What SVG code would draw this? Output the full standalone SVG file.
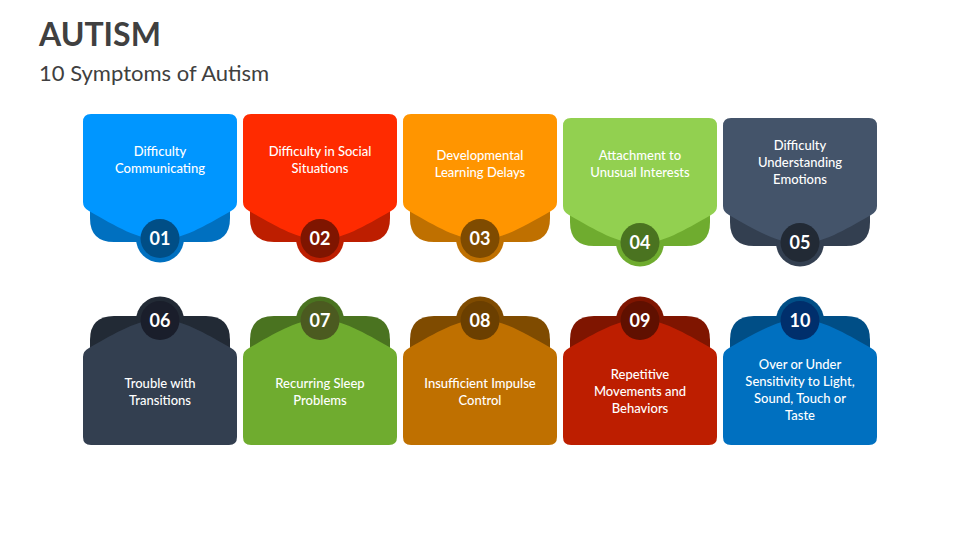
<svg xmlns="http://www.w3.org/2000/svg" width="960" height="540" viewBox="0 0 960 540">
<style>
text{font-family:"Lato","Open Sans","Liberation Sans",sans-serif;text-anchor:middle}
.h1{font-size:32px;font-weight:700;fill:#404040;text-anchor:start}
.h2{font-size:22px;fill:#404040;text-anchor:start}
.t{font-size:13px;fill:#fff;font-weight:500}
.n{font-size:18px;fill:#fff;font-weight:700}
</style>
<defs>
<path id="back" d="M0,0H140V12Q140,36 116,36H24Q0,36 0,12Z"/>
<path id="card" d="M8,0H146Q154,0 154,8V88Q154,94 148,97C120,113 100,125 77,126C54,125 34,113 6,97Q0,94 0,88V8Q0,0 8,0Z"/>
</defs>
<text class="h1" x="39" y="46">AUTISM</text>
<text class="h2" x="39" y="81">10 Symptoms of Autism</text>
<g id="connectors"/>
<g id="node-01"><use href="#back" x="90" y="206" fill="#0070C0"/><circle cx="160" cy="238.5" r="24" fill="#0070C0"/><use href="#card" x="83" y="114" fill="#0096FF"/><circle cx="160" cy="238.5" r="19.5" fill="#004E86"/><text class="t" x="160" y="156">Difficulty</text><text class="t" x="160" y="173">Communicating</text><text class="n" x="160" y="244.5">01</text></g>
<g id="node-02"><use href="#back" x="250" y="206" fill="#BD1E00"/><circle cx="320" cy="238.5" r="24" fill="#BD1E00"/><use href="#card" x="243" y="114" fill="#FF2B00"/><circle cx="320" cy="238.5" r="19.5" fill="#7F1500"/><text class="t" x="320" y="156">Difficulty in Social</text><text class="t" x="320" y="173">Situations</text><text class="n" x="320" y="244.5">02</text></g>
<g id="node-03"><use href="#back" x="410" y="206" fill="#BF7000"/><circle cx="480" cy="238.5" r="24" fill="#BF7000"/><use href="#card" x="403" y="114" fill="#FF9500"/><circle cx="480" cy="238.5" r="19.5" fill="#7F4B00"/><text class="t" x="480" y="160">Developmental</text><text class="t" x="480" y="177">Learning Delays</text><text class="n" x="480" y="244.5">03</text></g>
<g id="node-04"><use href="#back" x="570" y="210" fill="#6FAC2F"/><circle cx="640" cy="242.5" r="24" fill="#6FAC2F"/><use href="#card" x="563" y="118" fill="#92D050"/><circle cx="640" cy="242.5" r="19.5" fill="#4A7320"/><text class="t" x="640" y="160">Attachment to</text><text class="t" x="640" y="177">Unusual Interests</text><text class="n" x="640" y="248.5">04</text></g>
<g id="node-05"><use href="#back" x="730" y="210" fill="#333F50"/><circle cx="800" cy="242.5" r="24" fill="#333F50"/><use href="#card" x="723" y="118" fill="#44546A"/><circle cx="800" cy="242.5" r="19.5" fill="#222A35"/><text class="t" x="800" y="150">Difficulty</text><text class="t" x="800" y="167">Understanding</text><text class="t" x="800" y="184">Emotions</text><text class="n" x="800" y="248.5">05</text></g>
<g id="node-06"><use href="#back" transform="translate(90,352) scale(1,-1)" fill="#222A35"/><circle cx="160" cy="320.5" r="24" fill="#222A35"/><use href="#card" transform="translate(83,445) scale(1,-1)" fill="#333F50"/><circle cx="160" cy="320.5" r="19.5" fill="#1A1E2B"/><text class="t" x="160" y="388">Trouble with</text><text class="t" x="160" y="405">Transitions</text><text class="n" x="160" y="326.5">06</text></g>
<g id="node-07"><use href="#back" transform="translate(250,352) scale(1,-1)" fill="#4A7320"/><circle cx="320" cy="320.5" r="24" fill="#4A7320"/><use href="#card" transform="translate(243,445) scale(1,-1)" fill="#6FAC2F"/><circle cx="320" cy="320.5" r="19.5" fill="#4B5A20"/><text class="t" x="320" y="388">Recurring Sleep</text><text class="t" x="320" y="405">Problems</text><text class="n" x="320" y="326.5">07</text></g>
<g id="node-08"><use href="#back" transform="translate(410,352) scale(1,-1)" fill="#7F4B00"/><circle cx="480" cy="320.5" r="24" fill="#7F4B00"/><use href="#card" transform="translate(403,445) scale(1,-1)" fill="#BF7000"/><circle cx="480" cy="320.5" r="19.5" fill="#6B3F00"/><text class="t" x="480" y="388">Insufficient Impulse</text><text class="t" x="480" y="405">Control</text><text class="n" x="480" y="326.5">08</text></g>
<g id="node-09"><use href="#back" transform="translate(570,352) scale(1,-1)" fill="#7F1500"/><circle cx="640" cy="320.5" r="24" fill="#7F1500"/><use href="#card" transform="translate(563,445) scale(1,-1)" fill="#BD1E00"/><circle cx="640" cy="320.5" r="19.5" fill="#601000"/><text class="t" x="640" y="379">Repetitive</text><text class="t" x="640" y="396">Movements and</text><text class="t" x="640" y="413">Behaviors</text><text class="n" x="640" y="326.5">09</text></g>
<g id="node-10"><use href="#back" transform="translate(730,352) scale(1,-1)" fill="#004E86"/><circle cx="800" cy="320.5" r="24" fill="#004E86"/><use href="#card" transform="translate(723,445) scale(1,-1)" fill="#0070C0"/><circle cx="800" cy="320.5" r="19.5" fill="#002F6C"/><text class="t" x="800" y="369">Over or Under</text><text class="t" x="800" y="386">Sensitivity to Light,</text><text class="t" x="800" y="403">Sound, Touch or</text><text class="t" x="800" y="420">Taste</text><text class="n" x="800" y="326.5">10</text></g>
</svg>
